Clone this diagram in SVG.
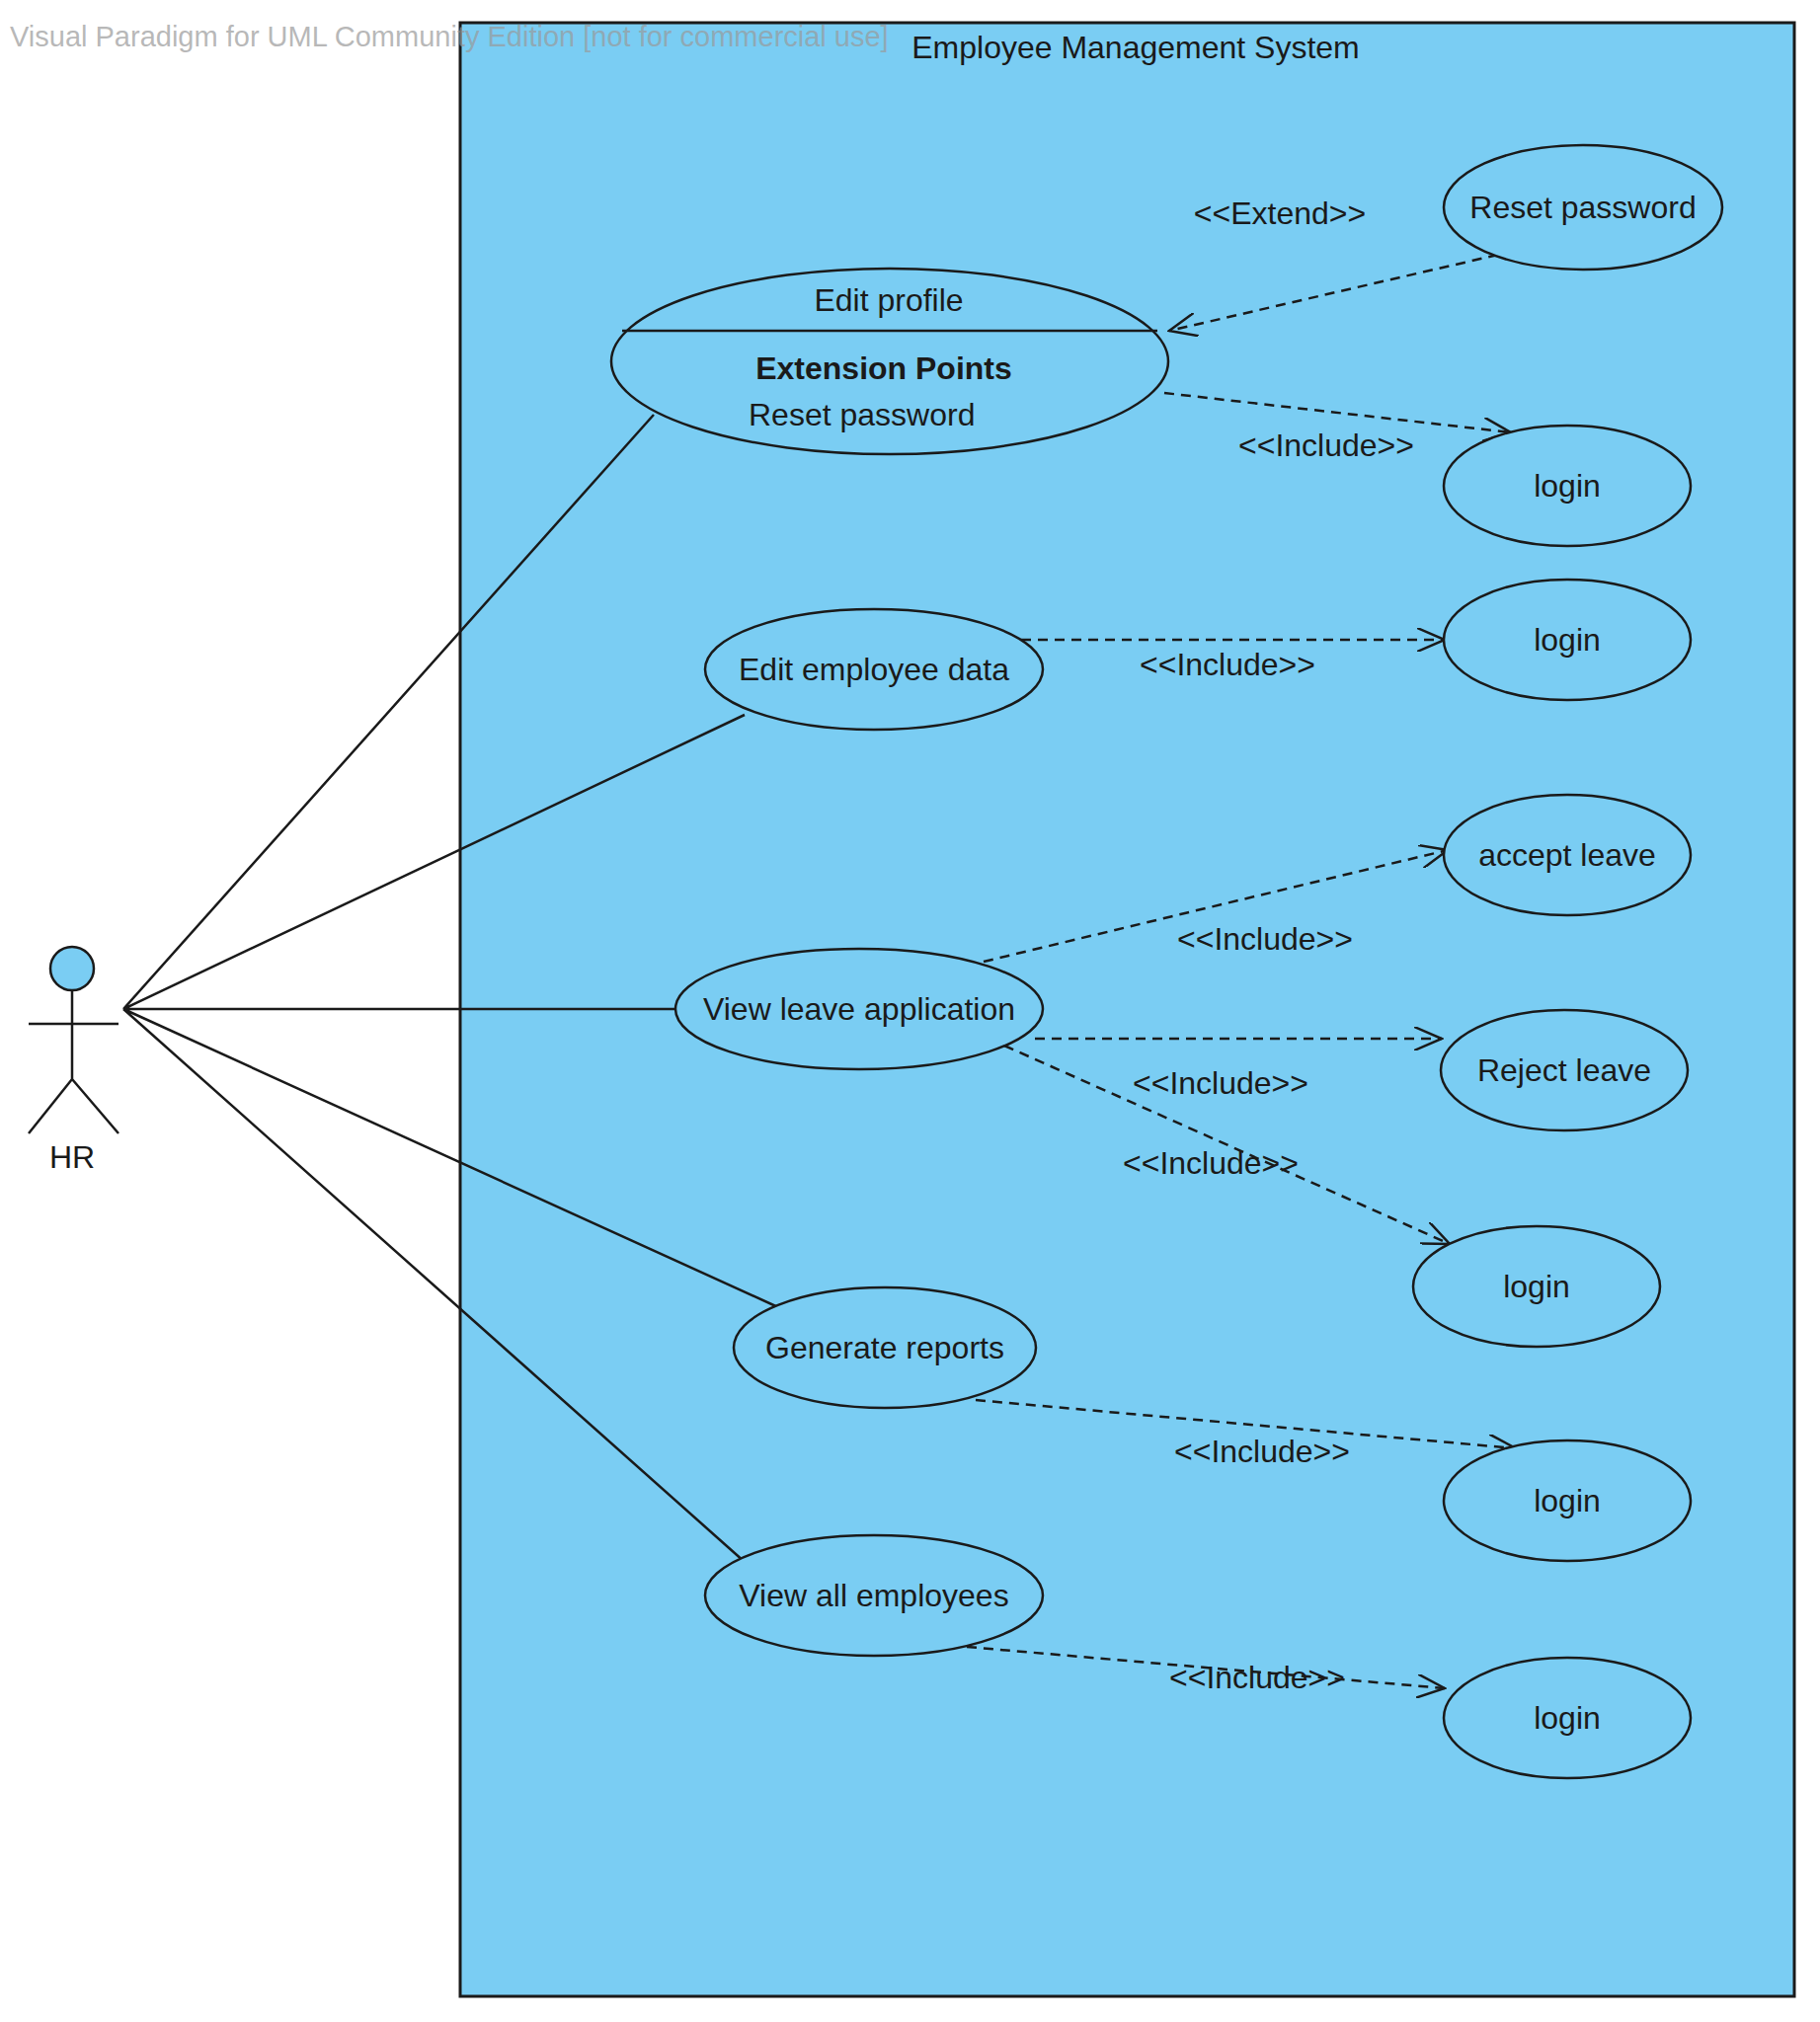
<svg xmlns="http://www.w3.org/2000/svg" width="1843" height="2048" viewBox="0 0 1843 2048">
<style>
text{font-family:"Liberation Sans",Arial,sans-serif;font-size:32px;fill:#1a1a1a;text-anchor:middle;dominant-baseline:central}
.uc{fill:#7acdf3;stroke:#1a1a1a;stroke-width:2.5}
.a{stroke:#1a1a1a;stroke-width:2.5;fill:none}
.d{stroke:#1a1a1a;stroke-width:2.5;fill:none;stroke-dasharray:10,7;marker-end:url(#ar)}
</style>
<defs><marker id="ar" viewBox="0 0 30 24" refX="28" refY="12" markerWidth="30" markerHeight="24" markerUnits="userSpaceOnUse" orient="auto"><path d="M0,0 L28,12 L0,24" fill="none" stroke="#1a1a1a" stroke-width="2.5"/></marker></defs>
<rect width="1843" height="2048" fill="#fff"/>
<g id="system"><rect x="466" y="23" width="1351" height="1999" fill="#7acdf3" stroke="#1a1a1a" stroke-width="3"/>
<text x="1150" y="48">Employee Management System</text></g>
<g id="actor"><circle cx="73" cy="981" r="22" class="uc"/><path class="a" d="M73,1003V1093M29,1037H120M73,1093L29,1148M73,1093L120,1148"/><text x="73" y="1172">HR</text></g>
<g id="connectors">
<path class="a" d="M125,1022L662,420M125,1022L754,724M125,1022L683,1022M125,1022L790,1325M125,1022L754,1582"/>
<path class="d" d="M1517,258L1184,335"/>
<path class="d" d="M1179,398L1530,438"/>
<path class="d" d="M1034,648L1463,648"/>
<path class="d" d="M996,974L1466,861"/>
<path class="d" d="M1048,1052L1460,1052"/>
<path class="d" d="M1017,1059L1468,1260"/>
<path class="d" d="M988,1418L1535,1467"/>
<path class="d" d="M979,1668L1463,1710"/>
<text x="1296" y="216">&lt;&lt;Extend&gt;&gt;</text>
<text x="1343" y="451">&lt;&lt;Include&gt;&gt;</text>
<text x="1243" y="673">&lt;&lt;Include&gt;&gt;</text>
<text x="1281" y="951">&lt;&lt;Include&gt;&gt;</text>
<text x="1236" y="1097">&lt;&lt;Include&gt;&gt;</text>
<text x="1226" y="1178">&lt;&lt;Include&gt;&gt;</text>
<text x="1278" y="1470">&lt;&lt;Include&gt;&gt;</text>
<text x="1273" y="1699">&lt;&lt;Include&gt;&gt;</text>
</g>
<g id="editprofile"><ellipse class="uc" cx="901" cy="366" rx="282" ry="94"/><path class="a" d="M630,335H1172"/>
<text x="900" y="304">Edit profile</text><text x="895" y="373" style="font-weight:bold">Extension Points</text><text x="758" y="420" style="text-anchor:start">Reset password</text></g>
<g id="resetpw"><ellipse class="uc" cx="1603" cy="210" rx="141" ry="63"/><text x="1603" y="210">Reset password</text></g>
<g id="login1"><ellipse class="uc" cx="1587" cy="492" rx="125" ry="61"/><text x="1587" y="492">login</text></g>
<g id="login2"><ellipse class="uc" cx="1587" cy="648" rx="125" ry="61"/><text x="1587" y="648">login</text></g>
<g id="editemp"><ellipse class="uc" cx="885" cy="678" rx="171" ry="61"/><text x="885" y="678">Edit employee data</text></g>
<g id="accept"><ellipse class="uc" cx="1587" cy="866" rx="125" ry="61"/><text x="1587" y="866">accept leave</text></g>
<g id="viewleave"><ellipse class="uc" cx="870" cy="1022" rx="186" ry="61"/><text x="870" y="1022">View leave application</text></g>
<g id="reject"><ellipse class="uc" cx="1584" cy="1084" rx="125" ry="61"/><text x="1584" y="1084">Reject leave</text></g>
<g id="login3"><ellipse class="uc" cx="1556" cy="1303" rx="125" ry="61"/><text x="1556" y="1303">login</text></g>
<g id="generate"><ellipse class="uc" cx="896" cy="1365" rx="153" ry="61"/><text x="896" y="1365">Generate reports</text></g>
<g id="login4"><ellipse class="uc" cx="1587" cy="1520" rx="125" ry="61"/><text x="1587" y="1520">login</text></g>
<g id="viewall"><ellipse class="uc" cx="885" cy="1616" rx="171" ry="61"/><text x="885" y="1616">View all employees</text></g>
<g id="login5"><ellipse class="uc" cx="1587" cy="1740" rx="125" ry="61"/><text x="1587" y="1740">login</text></g>
<text x="10" y="37" style="text-anchor:start;fill:#999;fill-opacity:0.7;font-size:29px">Visual Paradigm for UML Community Edition [not for commercial use]</text>
</svg>
